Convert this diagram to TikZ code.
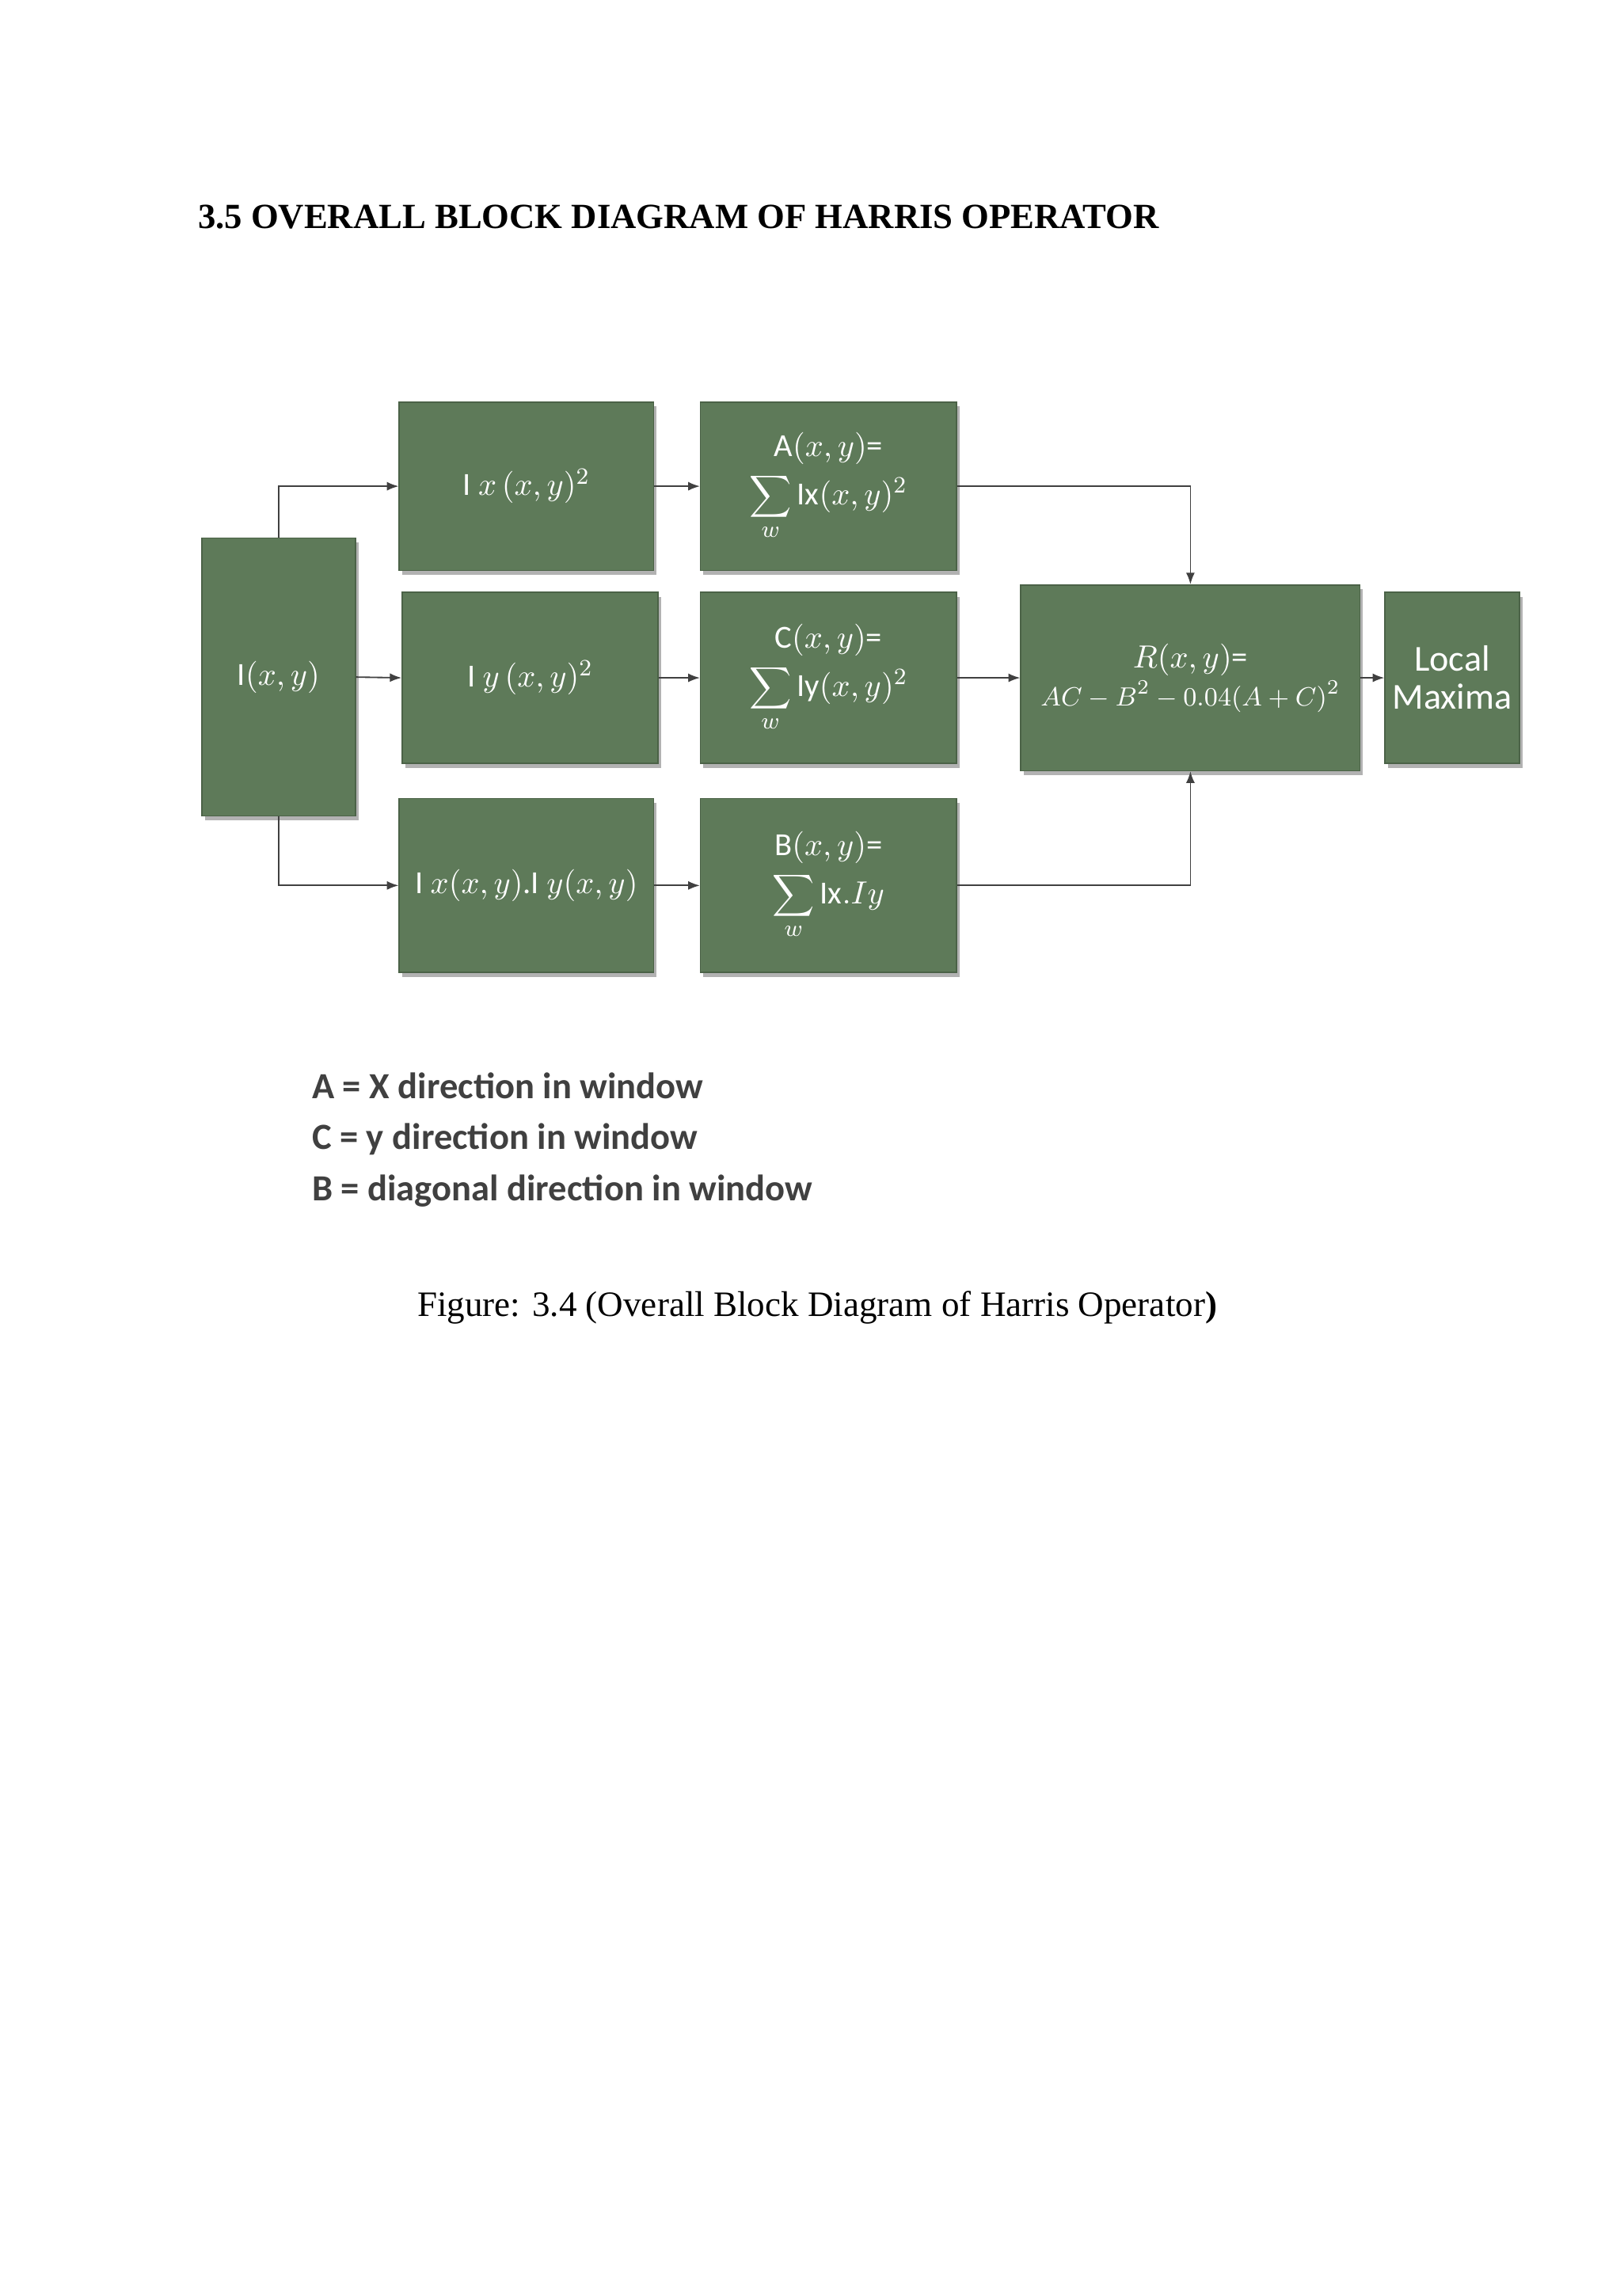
\documentclass[tikz,border=0pt]{standalone}
\usepackage{fontspec}
\setmainfont{Liberation Serif}
\newfontfamily\carl{Carlito}
\usetikzlibrary{arrows.meta}
\definecolor{boxg}{HTML}{5E7A59}
\tikzset{
 blk/.style={fill=boxg,draw=boxg!80!black,line width=0.4pt,text=white,align=center,font=\carl\fontsize{11}{13}\selectfont,inner sep=0pt},
 con/.style={-{Latex[length=4pt,width=3pt]},line width=0.5pt,draw=black!75}
}
\newcommand{\bx}[6]{% name x1 y1 x2 y2 text
 \fill[black!30] (#2+2,#3+3) rectangle (#4+2,#5+3);
 \node[blk,minimum width=(#4-#2)*0.5pt,minimum height=(#5-#3)*0.5pt] (#1) at ({(#2+#4)/2},{(#3+#5)/2}) {#6};}
\begin{document}
\begin{tikzpicture}[x=0.5pt,y=-0.5pt]
\useasboundingbox[fill=white] (0,0) rectangle (1110,1568);
\node[anchor=base west,inner sep=0pt,font=\bfseries\fontsize{12.1}{14}\selectfont] (title) at (135,156) {3.5 OVERALL BLOCK DIAGRAM OF HARRIS OPERATOR};
\bx{I}{138}{368}{243}{558}{I$(x,y)$}
\bx{IX}{273}{275}{447}{390}{I $x\,(x,y)^2$}
\bx{IY}{275}{405}{450}{522}{I $y\,(x,y)^2$}
\bx{IXY}{273}{546}{447}{665}{I $x(x,y)$.I $y(x,y)$}
\bx{A}{479}{275}{654}{390}{A$(x,y)$=\\[2pt]$\displaystyle\sum_{w}\,$Ix$(x,y)^2$}
\bx{C}{479}{405}{654}{522}{C$(x,y)$=\\[2pt]$\displaystyle\sum_{w}\,$Iy$(x,y)^2$}
\bx{B}{479}{546}{654}{665}{B$(x,y)$=\\[2pt]$\displaystyle\sum_{w}\,$Ix$.Iy$}
\bx{R}{698}{400}{930}{527}{$R(x,y)$=\\\fontsize{9.5}{12}\selectfont$AC-B^2-0.04(A+C)^2$}
\bx{L}{947}{405}{1039}{522}{\fontsize{12.5}{14}\selectfont Local\\\fontsize{12.5}{14}\selectfont Maxima}
\draw[con] (I.north) |- (IX.west);
\draw[con] (I.east) -- (IY.west);
\draw[con] (I.south) |- (IXY.west);
\draw[con] (IX.east) -- (A.west);
\draw[con] (IY.east) -- (C.west);
\draw[con] (IXY.east) -- (B.west);
\draw[con] (A.east) -| (R.north);
\draw[con] (C.east) -- (R.west);
\draw[con] (B.east) -| (R.south);
\draw[con] (R.east) -- (L.west);
\node[anchor=north west,inner sep=0pt,align=left,font=\carl\bfseries\fontsize{12.6}{17.5}\selectfont,text=black!75] (leg) at (213,733) {A = X direction in window\\C = y direction in window\\B = diagonal direction in window};
\node[anchor=base west,inner sep=0pt,font=\fontsize{12.2}{14}\selectfont] (cap) at (285,900) {Figure: 3.4 (Overall Block Diagram of Harris Operator\textbf{)}};
\end{tikzpicture}
\end{document}
